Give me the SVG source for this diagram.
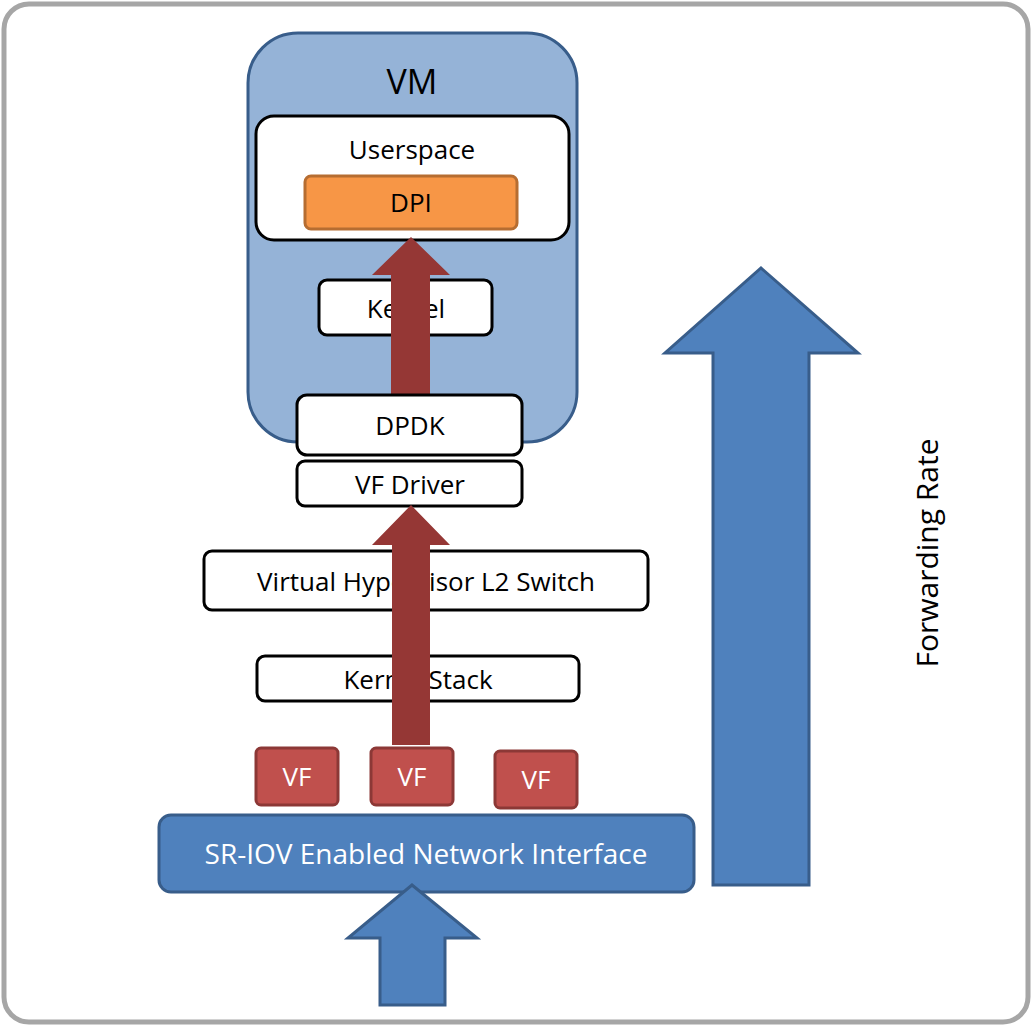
<svg xmlns="http://www.w3.org/2000/svg" width="1032" height="1026" viewBox="0 0 1032 1026">
<style>
text{font-family:"Open Sans","Liberation Sans",sans-serif;text-anchor:middle;fill:#000}
.box{fill:#fff;stroke:#000;stroke-width:3}
.vf rect{fill:#c0504d;stroke:#8c3836;stroke-width:3}
.vf text{fill:#fff;font-size:26px}
.red{fill:#953735}
.blue{fill:#4f81bd;stroke:#385d8a;stroke-width:3}
</style>
<rect x="4" y="4" width="1024" height="1018" rx="25" fill="#fff" stroke="#a6a6a6" stroke-width="5"/>
<g id="vm"><rect x="248" y="33" width="329" height="409" rx="50" fill="#95b3d7" stroke="#385d8a" stroke-width="3"/><text x="412" y="94" font-size="34">VM</text></g>
<g id="userspace"><rect class="box" x="256" y="116" width="313" height="124" rx="18"/><text x="412" y="159" font-size="26">Userspace</text></g>
<g id="dpi"><rect x="305" y="176" width="212" height="53" rx="6" fill="#f79646" stroke="#b66d31" stroke-width="3"/><text x="411" y="212" font-size="26">DPI</text></g>
<g id="kernel"><rect class="box" x="319" y="280" width="173" height="55" rx="8"/><text x="406" y="318" font-size="26">Kernel</text></g>
<g id="connectors">
<polygon class="red" points="391,395 391,275 372,275 411,237 450,275 430,275 430,395"/>
</g>
<g id="dpdk"><rect class="box" x="297" y="395" width="225" height="60" rx="10"/><text x="410" y="435" font-size="26">DPDK</text></g>
<g id="vfdriver"><rect class="box" x="297" y="461" width="225" height="45" rx="8"/><text x="410" y="494" font-size="26">VF Driver</text></g>
<g id="l2switch"><rect class="box" x="204" y="551" width="444" height="59" rx="8"/><text x="426" y="591" font-size="26">Virtual Hypervisor L2 Switch</text></g>
<g id="kernelstack"><rect class="box" x="257" y="656" width="322" height="45" rx="8"/><text x="418" y="689" font-size="26">Kernel Stack</text></g>
<g id="connectors2">
<polygon class="red" points="392,745 392,545 372,545 411,505 450,545 430,545 430,745"/>
</g>
<g id="vf1" class="vf"><rect x="256" y="748" width="82" height="57" rx="5"/><text x="297" y="786">VF</text></g>
<g id="vf2" class="vf"><rect x="371" y="748" width="82" height="57" rx="5"/><text x="412" y="786">VF</text></g>
<g id="vf3" class="vf"><rect x="495" y="751" width="82" height="57" rx="5"/><text x="536" y="789">VF</text></g>
<g id="nic"><rect class="blue" x="159" y="815" width="535" height="77" rx="12"/><text x="426" y="864" font-size="28" style="fill:#fff">SR-IOV Enabled Network Interface</text></g>
<g id="inarrow"><polygon class="blue" points="380,1005 380,938 348,938 412,885 477,938 445,938 445,1005"/></g>
<g id="fwdarrow"><polygon class="blue" points="713,885 713,353 665,353 761,268 858,353 809,353 809,885"/></g>
<g id="fwdlabel"><text x="0" y="0" font-size="30" transform="translate(938,553) rotate(-90)">Forwarding Rate</text></g>
</svg>
